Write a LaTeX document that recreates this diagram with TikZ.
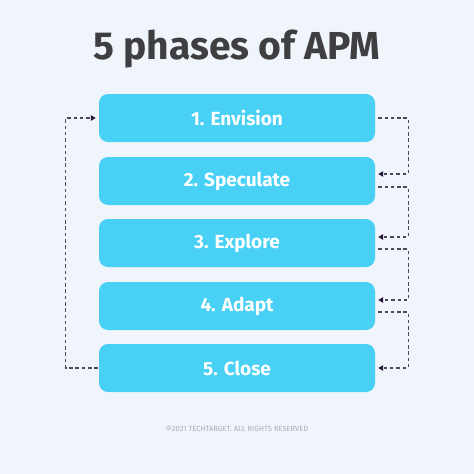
\documentclass[tikz,border=0pt]{standalone}
\usepackage{fontspec}
\setmainfont{Fira Sans}
\usetikzlibrary{arrows.meta}
\definecolor{bg}{HTML}{F0F5FC}
\definecolor{boxc}{HTML}{48D0F5}
\definecolor{titlec}{HTML}{3F3F42}
\definecolor{linec}{HTML}{4A4A5A}
\definecolor{tipc}{HTML}{2A1A3A}
\definecolor{footc}{HTML}{A8ACB4}
\tikzset{
  phase/.style={fill=boxc, rounded corners=9pt, minimum width=276pt, minimum height=48pt, inner sep=0pt,
    text=white, font=\fontsize{19}{22}\selectfont\bfseries},
  flow/.style={draw=linec, line width=1.1pt, dash pattern=on 3.5pt off 2.8pt,
    -{Triangle[length=5pt,width=5.5pt,color=tipc]}},
}
\begin{document}
\begin{tikzpicture}[x=1pt,y=-1pt]
\fill[bg] (0,0) rectangle (474,474);
\useasboundingbox (0,0) rectangle (474,474);
\node[font=\fontsize{39}{44}\selectfont\bfseries, text=titlec] (title) at (237,49) {5 phases of APM};
\node[phase] (p1) at (237,118) {1. Envision};
\node[phase] (p2) at (237,181) {2. Speculate};
\node[phase] (p3) at (237,243) {3. Explore};
\node[phase] (p4) at (237,306) {4. Adapt};
\node[phase] (p5) at (237,368) {5. Close};
\node[font=\fontsize{7.5}{9}\selectfont, text=footc] (foot) at (237,429) {©2021 TECHTARGET. ALL RIGHTS RESERVED};
% left loop
\coordinate (l5) at ([xshift=-33pt]p5.west);
\coordinate (l1) at ([xshift=-33pt]p1.west);
\draw[flow] ([xshift=-1pt]p5.west) -- (l5) -- (l1) -- ([xshift=-3pt]p1.west);
% right steps
\coordinate (s1) at ([xshift=3pt]p1.east);
\coordinate (e2) at ([xshift=3pt,yshift=7pt]p2.east);
\coordinate (s2) at ([xshift=3pt,yshift=-6pt]p2.east);
\coordinate (e3) at ([xshift=3pt,yshift=6pt]p3.east);
\coordinate (s3) at ([xshift=3pt,yshift=-6pt]p3.east);
\coordinate (e4) at ([xshift=3pt,yshift=6pt]p4.east);
\coordinate (s4) at ([xshift=3pt,yshift=-6pt]p4.east);
\coordinate (e5) at ([xshift=3pt]p5.east);
\draw[flow] (s1) -- ++(30,0) |- (e2);
\draw[flow] (s2) -- ++(30,0) |- (e3);
\draw[flow] (s3) -- ++(30,0) |- (e4);
\draw[flow] (s4) -- ++(30,0) |- (e5);
\end{tikzpicture}
\end{document}
